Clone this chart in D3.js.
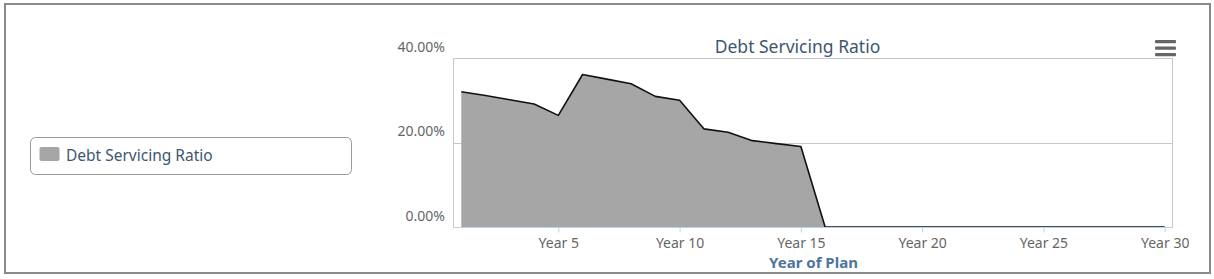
<!DOCTYPE html>
<html>
<head>
<meta charset="utf-8">
<script src="https://cdn.jsdelivr.net/npm/d3@7"></script>
<style>
  body { margin: 0; background: #fff; }
  svg { display: block; font-family: "Noto Sans", "DejaVu Sans", sans-serif; }
</style>
</head>
<body>
<div class="container"></div>
<script>
const w = 1214
const h = 279

// data
const years = d3.range(1, 31)
const ratio = [32.1, 31.2, 30.2, 29.2, 26.5, 36.2, 35.1, 34.0, 31.0, 30.1,
               23.3, 22.5, 20.5, 19.8, 19.1, 0, 0, 0, 0, 0,
               0, 0, 0, 0, 0, 0, 0, 0, 0, 0]
const xTicks = [5, 10, 15, 20, 25, 30]
const yTicks = [0, 20, 40]
const seriesName = "Debt Servicing Ratio"

const dataset = years.map((y, i) => ({ year: y, value: ratio[i] }))

const plot = { left: 453, top: 58, right: 1172, bottom: 227 }

const svg = d3.select(".container")
              .append("svg")
              .attr("width", w)
              .attr("height", h)

// outer frame
svg.append("rect")
    .attr("x", 5)
    .attr("y", 4)
    .attr("width", 1205)
    .attr("height", 269)
    .attr("fill", "none")
    .attr("stroke", "#8a8a8a")
    .attr("stroke-width", 2)

const xScale = d3.scaleLinear()
                .domain([1, 30])
                .range([461.3, 1164.7])
const yScale = d3.scaleLinear()
                .domain([0, 40])
                .range([plot.bottom, plot.top + 0.5])

// plot border
svg.append("rect")
    .attr("x", plot.left + 0.5)
    .attr("y", plot.top + 0.5)
    .attr("width", plot.right - plot.left)
    .attr("height", plot.bottom - plot.top)
    .attr("fill", "none")
    .attr("stroke", "#c8c8c8")

// grid line
svg.append("g")
    .selectAll("line")
    .data(yTicks.filter(d => d > 0 && d < 40))
    .enter()
    .append("line")
      .attr("x1", plot.left)
      .attr("x2", plot.right)
      .attr("y1", d => Math.round(yScale(d)) + 0.5)
      .attr("y2", d => Math.round(yScale(d)) + 0.5)
      .attr("stroke", "#c8c8c8")

const area = d3.area()
               .x(d => xScale(d.year))
               .y0(yScale(0))
               .y1(d => yScale(d.value))
const line = d3.line()
               .x(d => xScale(d.year))
               .y(d => yScale(d.value))

svg.append("path")
    .datum(dataset)
    .attr("d", area)
    .attr("fill", "#a6a6a6")

svg.append("path")
    .datum(dataset)
    .attr("d", line)
    .attr("fill", "none")
    .attr("stroke", "#111")
    .attr("stroke-width", 1.6)
    .attr("stroke-linejoin", "round")

// x axis
const xAxis = d3.axisBottom(xScale)
                .tickValues(xTicks)
                .tickSize(5)
                .tickPadding(6)
                .tickFormat(d => `Year ${d}`)

const gx = svg.append("g")
    .attr("id", "x-axis")
    .attr("transform", `translate(0, ${plot.bottom + 0.5})`)
    .call(xAxis)
gx.select(".domain")
    .attr("d", `M${plot.left},0H${plot.right + 1}`)
    .attr("stroke", "#c0d0e0")
gx.selectAll(".tick line").attr("stroke", "#c0d0e0")
gx.selectAll(".tick text")
    .attr("fill", "#666")
    .style("font-size", "14px")
    .style("font-family", "Noto Sans, sans-serif")

svg.append("text")
    .attr("x", (plot.left + plot.right) / 2 + 1)
    .attr("y", 268)
    .attr("text-anchor", "middle")
    .attr("fill", "#4d759e")
    .style("font-size", "15px")
    .style("font-weight", "bold")
    .text("Year of Plan")

// y axis
const yAxis = d3.axisLeft(yScale)
                .tickValues(yTicks)
                .tickSize(0)
                .tickPadding(8)
                .tickFormat(d => d3.format(".2%")(d / 100))

const gy = svg.append("g")
    .attr("id", "y-axis")
    .attr("transform", `translate(${plot.left}, 0)`)
    .call(yAxis)
gy.select(".domain").remove()
gy.selectAll(".tick text")
    .attr("fill", "#666")
    .attr("dy", "-0.5em")
    .style("font-size", "14px")
    .style("font-family", "Noto Sans, sans-serif")

// title
svg.append("text")
    .attr("x", 797.5)
    .attr("y", 53)
    .attr("text-anchor", "middle")
    .attr("fill", "#3e576f")
    .style("font-size", "17.5px")
    .text(seriesName)

// menu icon
svg.append("g")
    .selectAll("rect")
    .data([0, 1, 2])
    .enter()
    .append("rect")
      .attr("x", 1155)
      .attr("y", d => 40 + d * 6.5)
      .attr("width", 21)
      .attr("height", 3.2)
      .attr("rx", 1)
      .attr("fill", "#666")

// legend
const legend = svg.append("g")
                  .attr("id", "legend")
                  .attr("transform", "translate(30.5, 137.5)")

legend.append("rect")
    .attr("width", 321)
    .attr("height", 37)
    .attr("rx", 5)
    .attr("fill", "#fff")
    .attr("stroke", "#999")

legend.append("rect")
    .attr("x", 9)
    .attr("y", 9.5)
    .attr("width", 20)
    .attr("height", 14)
    .attr("rx", 2)
    .attr("fill", "#a6a6a6")

legend.append("text")
    .attr("x", 35.5)
    .attr("y", 23)
    .attr("fill", "#3e576f")
    .style("font-size", "15.5px")
    .text(seriesName)
</script>
</body>
</html>
